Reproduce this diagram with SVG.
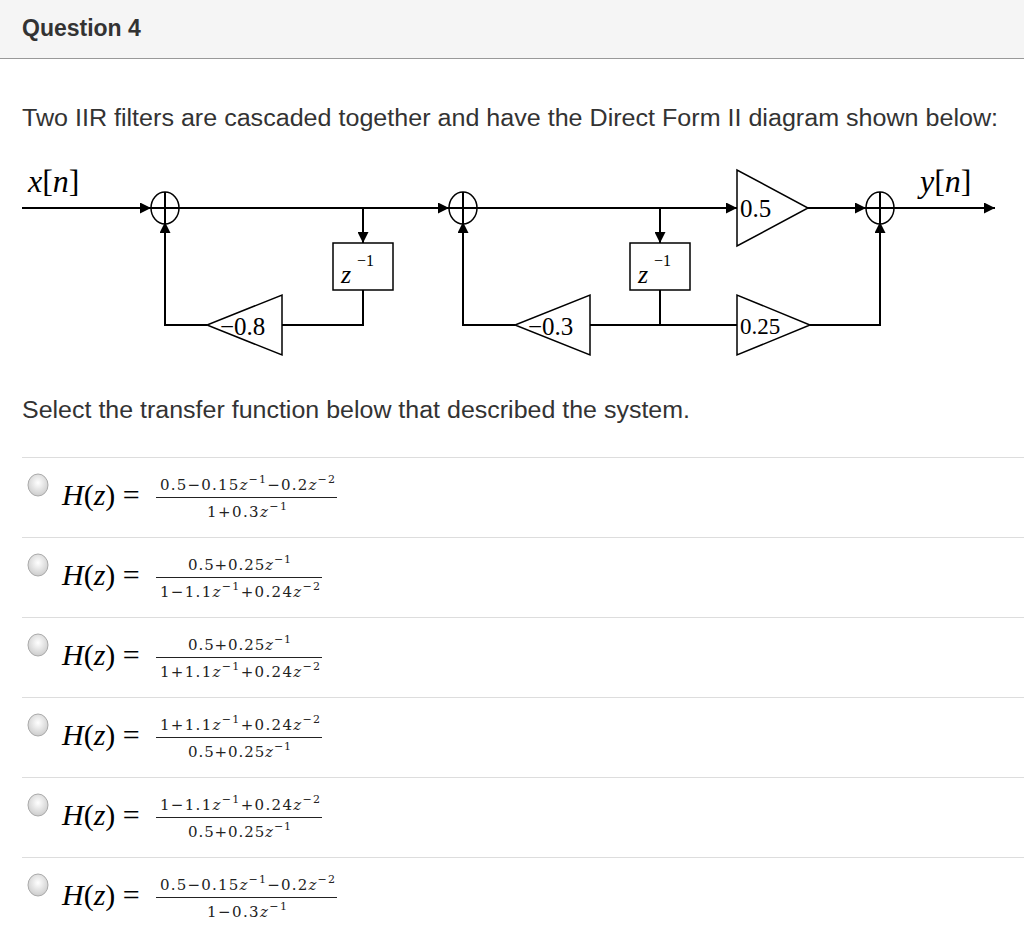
<svg xmlns="http://www.w3.org/2000/svg" width="1024" height="941" viewBox="0 0 1024 941">
<defs>
<marker id="a" viewBox="0 0 10 10" refX="10" refY="5" markerWidth="11" markerHeight="11" markerUnits="userSpaceOnUse" orient="auto"><path d="M0,0 L10,5 L0,10 z" fill="#000"/></marker>
<radialGradient id="rg" cx="0.5" cy="0.4" r="0.6"><stop offset="0" stop-color="#fff"/><stop offset="1" stop-color="#ccc"/></radialGradient>
</defs>
<style>
.ui{font-family:"Liberation Sans",Arial,sans-serif;fill:#333}
.s{font-family:"Liberation Serif","Times New Roman",serif;fill:#000}
.m{font-family:"DejaVu Serif","Liberation Serif",serif;fill:#222}
.f{font-family:"DejaVu Serif","Liberation Serif",serif;fill:#222;font-size:15px}
.sup{font-size:11px}
.w{stroke:#000;stroke-width:2;fill:none}
.b{stroke:#000;stroke-width:1.5;fill:#fff}
.sep{stroke:#ddd;stroke-width:1}
.rad{fill:url(#rg);stroke:#aaa;stroke-width:1}
</style>
<rect width="1024" height="941" fill="#fff"/>
<rect x="0" y="0" width="1024" height="58" fill="#f5f5f5"/>
<line x1="0" y1="58.5" x2="1024" y2="58.5" stroke="#999"/>
<text class="ui" x="22" y="36" font-size="23" font-weight="bold">Question 4</text>
<text class="ui" x="22" y="126" font-size="23" textLength="976" lengthAdjust="spacingAndGlyphs">Two IIR filters are cascaded together and have the Direct Form II diagram shown below:</text>

<g id="connectors">
<line class="w" x1="22" y1="208" x2="151" y2="208" marker-end="url(#a)"/>
<line class="w" x1="179" y1="208" x2="449" y2="208" marker-end="url(#a)"/>
<line class="w" x1="477" y1="208" x2="737" y2="208" marker-end="url(#a)"/>
<line class="w" x1="808" y1="208" x2="866" y2="208" marker-end="url(#a)"/>
<line class="w" x1="894" y1="208" x2="995" y2="208" marker-end="url(#a)"/>
<line class="w" x1="363" y1="208" x2="363" y2="243" marker-end="url(#a)"/>
<line class="w" x1="660" y1="208" x2="660" y2="243" marker-end="url(#a)"/>
<polyline class="w" points="363,290 363,325 282,325"/>
<polyline class="w" points="207,325 165,325 165,222" marker-end="url(#a)"/>
<line class="w" x1="660" y1="290" x2="660" y2="325"/>
<line class="w" x1="590" y1="325" x2="737" y2="325"/>
<polyline class="w" points="515,325 463,325 463,222" marker-end="url(#a)"/>
<polyline class="w" points="810,325 880,325 880,222" marker-end="url(#a)"/>
</g>

<g id="xn"><text class="s" x="28" y="192" font-size="32"><tspan font-style="italic">x</tspan>[<tspan font-style="italic">n</tspan>]</text></g>
<g id="yn"><text class="s" x="920" y="192" font-size="32"><tspan font-style="italic">y</tspan>[<tspan font-style="italic">n</tspan>]</text></g>
<g id="add1"><ellipse class="b" cx="165" cy="208" rx="14" ry="16"/><path class="w" d="M151,208H179M165,192V224"/></g>
<g id="add2"><ellipse class="b" cx="463" cy="208" rx="14" ry="16"/><path class="w" d="M449,208H477M463,192V224"/></g>
<g id="add3"><ellipse class="b" cx="880" cy="208" rx="14" ry="16"/><path class="w" d="M866,208H894M880,192V224"/></g>
<g id="z1"><rect class="b" x="333" y="243" width="60" height="47"/><text class="s" x="341" y="283" font-size="26" font-style="italic">z</text><text class="s" x="357" y="266" font-size="16">−1</text></g>
<g id="z2"><rect class="b" x="630" y="243" width="60" height="47"/><text class="s" x="638" y="283" font-size="26" font-style="italic">z</text><text class="s" x="654" y="266" font-size="16">−1</text></g>
<g id="g08"><polygon class="b" points="282,295 282,355 207,325"/><text class="s" x="220" y="335" font-size="25">−0.8</text></g>
<g id="g03"><polygon class="b" points="590,295 590,355 515,325"/><text class="s" x="528" y="335" font-size="25">−0.3</text></g>
<g id="g05"><polygon class="b" points="737,170 737,246 808,208"/><text class="s" x="740" y="217" font-size="25">0.5</text></g>
<g id="g025"><polygon class="b" points="737,295 737,355 810,325"/><text class="s" x="740" y="334" font-size="23">0.25</text></g>

<text class="ui" x="22" y="418" font-size="23" textLength="668" lengthAdjust="spacingAndGlyphs">Select the transfer function below that described the system.</text>

<g id="options">
<line class="sep" x1="22" y1="457.5" x2="1024" y2="457.5"/>
<line class="sep" x1="22" y1="537.5" x2="1024" y2="537.5"/>
<line class="sep" x1="22" y1="617.5" x2="1024" y2="617.5"/>
<line class="sep" x1="22" y1="697.5" x2="1024" y2="697.5"/>
<line class="sep" x1="22" y1="777.5" x2="1024" y2="777.5"/>
<line class="sep" x1="22" y1="857.5" x2="1024" y2="857.5"/>

<g id="o1"><ellipse class="rad" cx="38" cy="485" rx="10" ry="11"/><text class="s" x="62" y="505" font-size="30"><tspan font-style="italic">H</tspan>(<tspan font-style="italic">z</tspan>) =</text>
<text class="f" x="160" y="490" textLength="175" lengthAdjust="spacing">0.5−0.15<tspan font-style="italic">z</tspan><tspan class="sup" dy="-7">−1</tspan><tspan dy="7">−0.2</tspan><tspan font-style="italic">z</tspan><tspan class="sup" dy="-7">−2</tspan></text>
<line x1="156" y1="497.5" x2="337" y2="497.5" stroke="#222"/>
<text class="f" x="207" y="517" textLength="80" lengthAdjust="spacing">1+0.3<tspan font-style="italic">z</tspan><tspan class="sup" dy="-7">−1</tspan></text></g>

<g id="o2"><ellipse class="rad" cx="38" cy="565" rx="10" ry="11"/><text class="s" x="62" y="585" font-size="30"><tspan font-style="italic">H</tspan>(<tspan font-style="italic">z</tspan>) =</text>
<text class="f" x="188" y="570" textLength="103" lengthAdjust="spacing">0.5+0.25<tspan font-style="italic">z</tspan><tspan class="sup" dy="-7">−1</tspan></text>
<line x1="156" y1="577.5" x2="322" y2="577.5" stroke="#222"/>
<text class="f" x="160" y="597" textLength="160" lengthAdjust="spacing">1−1.1<tspan font-style="italic">z</tspan><tspan class="sup" dy="-7">−1</tspan><tspan dy="7">+0.24</tspan><tspan font-style="italic">z</tspan><tspan class="sup" dy="-7">−2</tspan></text></g>

<g id="o3"><ellipse class="rad" cx="38" cy="645" rx="10" ry="11"/><text class="s" x="62" y="665" font-size="30"><tspan font-style="italic">H</tspan>(<tspan font-style="italic">z</tspan>) =</text>
<text class="f" x="188" y="650" textLength="103" lengthAdjust="spacing">0.5+0.25<tspan font-style="italic">z</tspan><tspan class="sup" dy="-7">−1</tspan></text>
<line x1="156" y1="657.5" x2="322" y2="657.5" stroke="#222"/>
<text class="f" x="160" y="677" textLength="160" lengthAdjust="spacing">1+1.1<tspan font-style="italic">z</tspan><tspan class="sup" dy="-7">−1</tspan><tspan dy="7">+0.24</tspan><tspan font-style="italic">z</tspan><tspan class="sup" dy="-7">−2</tspan></text></g>

<g id="o4"><ellipse class="rad" cx="38" cy="725" rx="10" ry="11"/><text class="s" x="62" y="745" font-size="30"><tspan font-style="italic">H</tspan>(<tspan font-style="italic">z</tspan>) =</text>
<text class="f" x="160" y="730" textLength="160" lengthAdjust="spacing">1+1.1<tspan font-style="italic">z</tspan><tspan class="sup" dy="-7">−1</tspan><tspan dy="7">+0.24</tspan><tspan font-style="italic">z</tspan><tspan class="sup" dy="-7">−2</tspan></text>
<line x1="156" y1="737.5" x2="322" y2="737.5" stroke="#222"/>
<text class="f" x="188" y="757" textLength="103" lengthAdjust="spacing">0.5+0.25<tspan font-style="italic">z</tspan><tspan class="sup" dy="-7">−1</tspan></text></g>

<g id="o5"><ellipse class="rad" cx="38" cy="805" rx="10" ry="11"/><text class="s" x="62" y="825" font-size="30"><tspan font-style="italic">H</tspan>(<tspan font-style="italic">z</tspan>) =</text>
<text class="f" x="160" y="810" textLength="160" lengthAdjust="spacing">1−1.1<tspan font-style="italic">z</tspan><tspan class="sup" dy="-7">−1</tspan><tspan dy="7">+0.24</tspan><tspan font-style="italic">z</tspan><tspan class="sup" dy="-7">−2</tspan></text>
<line x1="156" y1="817.5" x2="322" y2="817.5" stroke="#222"/>
<text class="f" x="188" y="837" textLength="103" lengthAdjust="spacing">0.5+0.25<tspan font-style="italic">z</tspan><tspan class="sup" dy="-7">−1</tspan></text></g>

<g id="o6"><ellipse class="rad" cx="38" cy="885" rx="10" ry="11"/><text class="s" x="62" y="905" font-size="30"><tspan font-style="italic">H</tspan>(<tspan font-style="italic">z</tspan>) =</text>
<text class="f" x="160" y="890" textLength="175" lengthAdjust="spacing">0.5−0.15<tspan font-style="italic">z</tspan><tspan class="sup" dy="-7">−1</tspan><tspan dy="7">−0.2</tspan><tspan font-style="italic">z</tspan><tspan class="sup" dy="-7">−2</tspan></text>
<line x1="156" y1="897.5" x2="337" y2="897.5" stroke="#222"/>
<text class="f" x="207" y="917" textLength="80" lengthAdjust="spacing">1−0.3<tspan font-style="italic">z</tspan><tspan class="sup" dy="-7">−1</tspan></text></g>
</g>
</svg>
